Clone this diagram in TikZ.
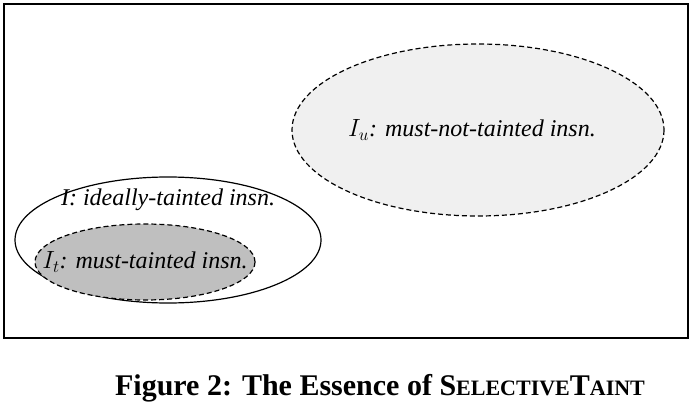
\documentclass[tikz,border=0pt]{standalone}
\usepackage{fontspec}
\setmainfont{Liberation Serif}
\begin{document}
\begin{tikzpicture}[x=1pt,y=-1pt,
  lbl/.style={font=\fontsize{24}{28}\selectfont\itshape},
  dashell/.style={draw,line width=1.2pt,dash pattern=on 5pt off 3pt}]
\useasboundingbox (0,0) rectangle (692,406);
\node[draw,line width=1.2pt,minimum width=684pt,minimum height=334pt,inner sep=0pt] (frame) at (346,171) {};
\path[draw,line width=1.2pt] (168,240) ellipse (153 and 63);
\path[dashell,fill=gray!50] (145,262) ellipse (110 and 38);
\path[dashell,fill=gray!12] (478,130) ellipse (186 and 86);
\node[lbl] (tI) at (168,200) {I: ideally-tainted insn.};
\node[lbl] (tIt) at (145,262) {$I_t$: must-tainted insn.};
\node[lbl] (tIu) at (472,130) {$I_u$: must-not-tainted insn.};
\node[font=\fontsize{30}{34}\selectfont\bfseries] (cap) at (380,388) {Figure 2: The Essence of S{\fontsize{22}{24}\selectfont ELECTIVE}T{\fontsize{22}{24}\selectfont AINT}};
\end{tikzpicture}
\end{document}
